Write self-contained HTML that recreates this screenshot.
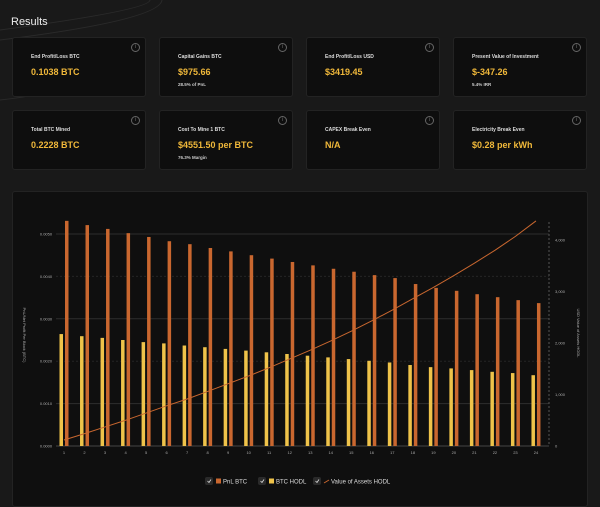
<!DOCTYPE html>
<html><head><meta charset="utf-8"><style>
body{margin:0;width:600px;height:507px;background:#191919;font-family:"Liberation Sans",sans-serif;overflow:hidden;position:relative;color:#fff}
.title{position:absolute;left:11px;top:16px;font-size:11px;color:#eee}
.card{position:absolute;width:134px;height:60px;background:#0e0e0e;border:1px solid #232323;border-radius:3px;box-sizing:border-box}
.card .lab{position:absolute;left:18px;top:16px;font-size:5px;font-weight:bold;color:#ddd}
.card .val{position:absolute;left:18px;top:29px;font-size:9px;font-weight:bold;color:#f0b83a}
.card .sub{position:absolute;left:18px;top:44px;font-size:4.5px;font-weight:bold;color:#ccc}
.card .info{position:absolute;right:5px;top:5px;width:7px;height:7px;border:1px solid #666;border-radius:50%;font-size:5px;color:#777;text-align:center;line-height:7px}
.panel{position:absolute;left:12px;top:191px;width:576px;height:316px;background:#0f0f0f;border:1px solid #232323;border-radius:3px;box-sizing:border-box}
</style></head><body>
<svg style="position:absolute;left:0;top:0" width="200" height="120"><g fill="none" stroke="#2a2a2a" stroke-width="1"><path d="M0 30 Q150 10 150 0"/><path d="M0 40 Q160 20 162 0"/><path d="M0 100 Q100 90 120 40"/></g></svg>
<div class="title">Results</div>

<div class="card" style="left:12px;top:37px"><div class="lab">End Profit/Loss BTC</div><div class="val">0.1038 BTC</div><div class="info">i</div></div>
<div class="card" style="left:159px;top:37px"><div class="lab">Capital Gains BTC</div><div class="val">$975.66</div><div class="sub">28.5% of PnL</div><div class="info">i</div></div>
<div class="card" style="left:306px;top:37px"><div class="lab">End Profit/Loss USD</div><div class="val">$3419.45</div><div class="info">i</div></div>
<div class="card" style="left:453px;top:37px"><div class="lab">Present Value of Investment</div><div class="val">$-347.26</div><div class="sub">5.4% IRR</div><div class="info">i</div></div>
<div class="card" style="left:12px;top:110px"><div class="lab">Total BTC Mined</div><div class="val">0.2228 BTC</div><div class="info">i</div></div>
<div class="card" style="left:159px;top:110px"><div class="lab">Cost To Mine 1 BTC</div><div class="val">$4551.50 per BTC</div><div class="sub">76.3% Margin</div><div class="info">i</div></div>
<div class="card" style="left:306px;top:110px"><div class="lab">CAPEX Break Even</div><div class="val">N/A</div><div class="info">i</div></div>
<div class="card" style="left:453px;top:110px"><div class="lab">Electricity Break Even</div><div class="val">$0.28 per kWh</div><div class="info">i</div></div>

<div class="panel"></div>
<svg id="chart" style="position:absolute;left:0;top:0" width="600" height="507"></svg>
<script>
const categories=[1,2,3,4,5,6,7,8,9,10,11,12,13,14,15,16,17,18,19,20,21,22,23,24];
const pnlBtc=[0.00531,0.00521,0.00512,0.00502,0.00493,0.00483,0.00476,0.00467,0.00459,0.00450,0.00442,0.00434,0.00426,0.00418,0.00411,0.00403,0.00396,0.00382,0.00373,0.00366,0.00358,0.00351,0.00344,0.00337];
const btcHodl=[0.00264,0.00259,0.00255,0.00250,0.00245,0.00242,0.00237,0.00233,0.00229,0.00225,0.00221,0.00217,0.00213,0.00209,0.00205,0.00201,0.00197,0.00191,0.00186,0.00183,0.00179,0.00175,0.00172,0.00167];
const valueHodl=[117,240,370,500,640,780,913,1060,1210,1360,1520,1690,1860,2040,2230,2430,2640,2860,3080,3310,3550,3800,4070,4370];
const leftTicks=[0,0.001,0.002,0.003,0.004,0.005];
const leftTickLabels=["0.0000","0.0010","0.0020","0.0030","0.0040","0.0050"];
const rightTicks=[0,1000,2000,3000,4000];
const rightTickLabels=["0","1,000","2,000","3,000","4,000"];

const NS="http://www.w3.org/2000/svg";
const svg=document.getElementById('chart');
const X0=64,DX=20.52,BASE=446;
const xPos=i=>X0+i*DX;
const yL=v=>BASE-v*42400;
const yR=v=>BASE-v*0.0515;
function mk(tag,attrs,parent){const e=document.createElementNS(NS,tag);for(const k in attrs)e.setAttribute(k,attrs[k]);(parent||svg).appendChild(e);return e;}

leftTicks.forEach((t,i)=>{
  const g=mk('line',{x1:56,x2:549,y1:yL(t),y2:yL(t),stroke:i%2?'#2e2e2e':'#252525','stroke-dasharray':i%2?'':'2,2','stroke-width':1});
  
  
  const tx=mk('text',{x:46,y:yL(t)+1.5,'font-size':4,fill:'#aaa','text-anchor':'middle'});
  tx.textContent=leftTickLabels[i];
  
  
});
const ra=mk('line',{x1:549,x2:549,y1:222,y2:446,stroke:'#555','stroke-dasharray':'2,2'});


rightTicks.forEach((t,i)=>{
  const tx=mk('text',{x:555,y:yR(t)+1.5,'font-size':4,fill:'#aaa'});
  tx.textContent=rightTickLabels[i];
  
  
});
const lt=mk('text',{x:23,y:335,'font-size':4,fill:'#aaa','text-anchor':'middle',transform:'rotate(90 23 335)'});
lt.textContent='PnL/Net Profit Per Block (BTC)';


const rt=mk('text',{x:577,y:333,'font-size':4,fill:'#aaa','text-anchor':'middle',transform:'rotate(90 577 333)'});
rt.textContent='USD Value of Assets HODL';


mk('line',{x1:56,x2:549,y1:BASE,y2:BASE,stroke:'#444'});

categories.forEach((c,i)=>{
  const x=xPos(i);
  const yb=mk('rect',{x:x-4.5,y:yL(btcHodl[i]),width:3.5,height:BASE-yL(btcHodl[i]),fill:'#efc34a'});
  
  
  const ob=mk('rect',{x:x+1,y:yL(pnlBtc[i]),width:3.5,height:BASE-yL(pnlBtc[i]),fill:'#c9672f'});
  
  
  const tl=mk('text',{x:x,y:454,'font-size':4,fill:'#aaa','text-anchor':'middle'});
  tl.textContent=c;
  
  
});
const pts=valueHodl.map((v,i)=>xPos(i)+','+yR(v)).join(' ');
const ln=mk('polyline',{points:pts,fill:'none',stroke:'#c9672f','stroke-width':1});



const legend=[['PnL BTC','#c9672f',205],['BTC HODL','#efc34a',258],['Value of Assets HODL','line',313]];
legend.forEach(([name,col,x])=>{
  const g=mk('g',{});
  
  
  mk('rect',{x:x,y:477,width:8,height:8,rx:2,fill:'#2a2a2a'},g);
  mk('path',{d:`M${x+2.5} ${481} l1.5 1.5 l2 -3`,stroke:'#ddd','stroke-width':0.8,fill:'none'},g);
  if(col==='line') mk('line',{x1:x+11,y1:483,x2:x+16,y2:480,stroke:'#c9672f','stroke-width':1},g);
  else mk('rect',{x:x+11,y:478.5,width:5,height:5,fill:col},g);
  const t=mk('text',{x:x+18,y:483.5,'font-size':6,fill:'#ddd'},g);
  t.textContent=name;
});
</script>
</body></html>
